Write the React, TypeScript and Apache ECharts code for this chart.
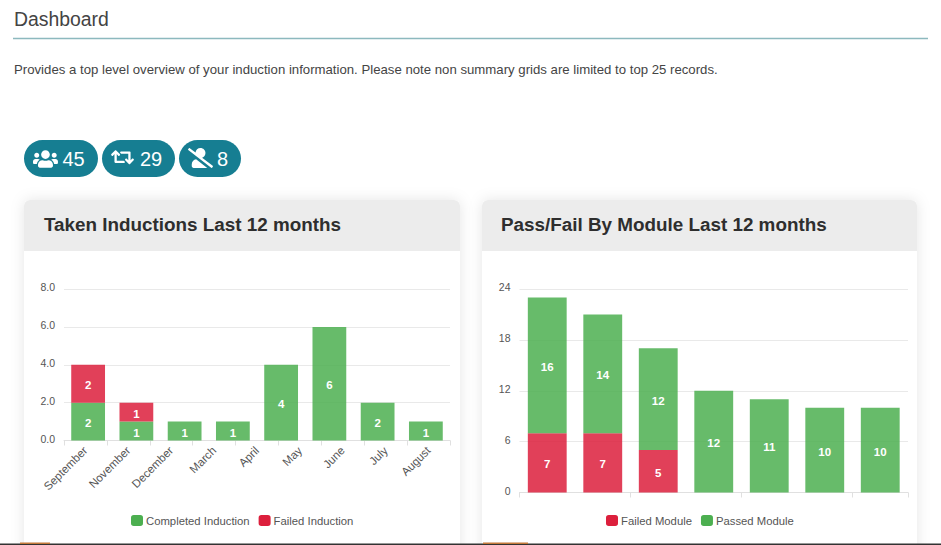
import React, { useEffect, useRef } from "react";
import * as echarts from "echarts";

const months = ["September", "November", "December", "March", "April", "May", "June", "July", "August"];
const inductionBands = ["Band 1", "Band 2", "Band 3", "Band 4", "Band 5", "Band 6", "Band 7", "Band 8"];
const completedInduction = [2, 1, 1, 1, 4, 6, 2, 1];
const failedInduction = [2, 1, null, null, null, null, null, null];
const modules = ["Module 1", "Module 2", "Module 3", "Module 4", "Module 5", "Module 6", "Module 7"];
const failedModule = [7, 7, 5, null, null, null, null];
const passedModule = [16, 14, 12, 12, 11, 10, 10];
const inductionTicks = [0, 2, 4, 6, 8];
const badges = [45, 29, 8];

const USERS = "M96 224c35.3 0 64-28.7 64-64s-28.7-64-64-64-64 28.7-64 64 28.7 64 64 64zm448 0c35.3 0 64-28.7 64-64s-28.7-64-64-64-64 28.7-64 64 28.7 64 64 64zm32 32h-64c-17.6 0-33.5 7.1-45.1 18.6 40.3 22.1 68.9 62 75.1 109.4h66c17.7 0 32-14.3 32-32v-32c0-35.3-28.7-64-64-64zm-256 0c61.9 0 112-50.1 112-112S381.9 32 320 32 208 82.1 208 144s50.1 112 112 112zm76.8 32h-8.3c-20.8 10-43.9 16-68.5 16s-47.6-6-68.5-16h-8.3C179.6 288 128 339.6 128 403.2V432c0 26.5 21.5 48 48 48h288c26.5 0 48-21.5 48-48v-28.8c0-63.6-51.6-115.2-115.2-115.2zm-223.7-13.4C161.5 263.1 145.6 256 128 256H64c-35.3 0-64 28.7-64 64v32c0 17.7 14.3 32 32 32h65.9c6.3-47.4 34.9-87.3 75.2-109.4z";
const RETWEET = "M629.657 343.598L528.971 444.284c-9.373 9.372-24.568 9.372-33.941 0L394.343 343.598c-9.373-9.373-9.373-24.569 0-33.941l10.823-10.823c9.562-9.562 25.133-9.34 34.419.492L480 342.118V160H292.451a24.005 24.005 0 0 1-16.971-7.029l-16-16C244.361 121.851 255.069 96 276.451 96H520c13.255 0 24 10.745 24 24v222.118l40.416-43.792c9.285-9.831 24.856-10.054 34.419-.492l10.823 10.823c9.372 9.372 9.372 24.569-.001 33.941zm-265.138 15.431A23.999 23.999 0 0 0 347.548 352H160V169.881l40.416 43.792c9.286 9.831 24.856 10.054 34.419.491l10.822-10.822c9.373-9.373 9.373-24.569 0-33.941L144.971 67.716c-9.373-9.373-24.569-9.373-33.941 0L10.343 168.402c-9.373 9.373-9.373 24.569 0 33.941l10.822 10.822c9.562 9.562 25.133 9.34 34.419-.491L96 169.881V392c0 13.255 10.745 24 24 24h243.549c21.382 0 32.09-25.851 16.971-40.971l-16.001-16z";
const USER_SLASH = "M633.8 458.1L362.3 248.3C412.1 230.7 448 183.8 448 128 448 57.3 390.7 0 320 0c-67.1 0-121.5 51.8-126.9 117.4L45.5 3.4C38.5-2 28.5-.8 23 6.2L3.4 31.4c-5.4 7-4.2 17 2.8 22.4l588.4 454.7c7 5.4 17 4.2 22.5-2.8l19.6-25.3c5.4-6.8 4.1-16.9-2.9-22.3zM96 422.4V464c0 26.5 21.5 48 48 48h350.2L207.4 290.3C144.2 301.3 96 356 96 422.4z";

echarts.graphic.registerShape("iconUsers", echarts.graphic.extendPath(USERS, {}) as any);
echarts.graphic.registerShape("iconRetweet", echarts.graphic.extendPath(RETWEET, {}) as any);
echarts.graphic.registerShape("iconUserSlash", echarts.graphic.extendPath(USER_SLASH, {}) as any);

const FONT = '"Liberation Sans", Arial, sans-serif';
const GREEN = "#4CAF50";
const RED = "#DC1F3C";
const TEAL = "#167E92";

const txt = (x: number, y: number, text: string, fontSize: number, fill: string, fontWeight = "normal") => ({
  type: "text", x, y, z: -1, z2: 5,
  style: { text, fontSize, fill, fontWeight, fontFamily: FONT, textVerticalAlign: "middle" },
});
const badge = (x: number, width: number) => ({
  type: "rect", z: -1, z2: 2,
  shape: { x, y: 140, width, height: 37, r: 18.5 },
  style: { fill: TEAL },
});
const icon = (type: string, x: number, y: number, s: number) => ({
  type, x, y, scaleX: s, scaleY: s, z: -1, z2: 5, style: { fill: "#fff" },
});
const card = (x: number, width: number, title: string, titleX: number) => [
  {
    type: "rect", z: -1, z2: 1,
    shape: { x, y: 200, width, height: 380, r: 6 },
    style: { fill: "#fff", shadowBlur: 14, shadowColor: "rgba(0,0,0,0.10)" },
  },
  {
    type: "rect", z: -1, z2: 2,
    shape: { x, y: 200, width, height: 51, r: [6, 6, 0, 0] },
    style: { fill: "#ECECEC" },
  },
  txt(titleX, 224, title, 18.85, "#2E2E2E", "bold"),
];
const strip = (x: number, y: number, width: number, height: number, fill: string, z2: number) => ({
  type: "rect", z: 5, z2, shape: { x, y, width, height }, style: { fill },
});

const catAxis = (gridIndex: number, data: string[], showLabel: boolean) => ({
  type: "category", gridIndex, data,
  axisLine: { lineStyle: { color: "#E0E0E0" } },
  axisTick: { show: true, length: 5, alignWithLabel: false, lineStyle: { color: "#E0E0E0" } },
  axisLabel: showLabel
    ? { show: true, rotate: 45, interval: 0, fontSize: 11.5, color: "#555", fontFamily: FONT, margin: 8 }
    : { show: false },
  splitLine: { show: false },
});
const hiddenBandAxis = (gridIndex: number, data: string[]) => ({
  type: "category", gridIndex, data, show: false,
});
const valAxis = (gridIndex: number, max: number, interval: number, digits: number) => ({
  type: "value", gridIndex, min: 0, max, interval,
  axisLine: { show: false },
  axisTick: { show: false },
  axisLabel: {
    fontSize: 10.5, color: "#555", fontFamily: FONT, margin: 9, verticalAlign: "bottom", lineHeight: 4,
    formatter: (v: number) => v.toFixed(digits),
  },
  splitLine: { lineStyle: { color: "#E9E9E9" } },
});
const barSeries = (name: string, data: (number | null)[], xIdx: number, yIdx: number, color: string, stack: string) => ({
  type: "bar", name, data, stack, xAxisIndex: xIdx, yAxisIndex: yIdx, barWidth: "70%",
  itemStyle: { color, opacity: 0.85 },
  label: { show: true, position: "inside", offset: [0, 1.5], color: "#fff", fontWeight: "bold", fontSize: 11.5, fontFamily: FONT, opacity: 1 },
  emphasis: { disabled: true },
});
const legend = (left: number, names: string[]) => ({
  left, top: 510, itemWidth: 12, itemHeight: 11, itemGap: 9,
  itemStyle: { borderWidth: 0 },
  textStyle: { fontSize: 11.3, color: "#555", fontFamily: FONT, padding: [0, 0, 0, -2] },
  data: names.map((name) => ({ name, itemStyle: { opacity: 1 } })),
});

export default function App() {
  const ref = useRef<HTMLDivElement>(null);
  useEffect(() => {
    document.body.style.margin = "0";
    const chart = echarts.init(ref.current!, null, { renderer: "svg" });
    chart.setOption({
      animation: false,
      backgroundColor: "#fff",
      graphic: {
        elements: [
          txt(14, 18.5, "Dashboard", 19.4, "#444"),
          {
            type: "line", z: -1, z2: 2,
            shape: { x1: 13, y1: 38.5, x2: 928, y2: 38.5 },
            style: { stroke: "#8DB9BE", lineWidth: 1.3 },
          },
          txt(14, 69.5, "Provides a top level overview of your induction information. Please note non summary grids are limited to top 25 records.", 13.2, "#444"),
          badge(24, 74), badge(102, 73), badge(179, 62),
          icon("iconUsers", 33, 149, 0.039),
          icon("iconRetweet", 111, 148, 0.036),
          icon("iconUserSlash", 188, 148, 0.0385),
          txt(62.5, 158.5, String(badges[0]), 20, "#fff"),
          txt(140, 158.5, String(badges[1]), 20, "#fff"),
          txt(217, 158.5, String(badges[2]), 20, "#fff"),
          ...card(24, 436, "Taken Inductions Last 12 months", 44),
          ...card(482, 435, "Pass/Fail By Module Last 12 months", 501),
          strip(0, 543.5, 941, 1.5, "#333", 10),
          strip(20, 542.5, 30, 1.5, "#C4793A", 11),
          strip(483, 542.5, 45, 1.5, "#C4793A", 11),
        ],
      },
      grid: [
        { left: 64, top: 289, width: 386, height: 151.5 },
        { left: 519.5, top: 289, width: 388.5, height: 203.5 },
      ],
      xAxis: [catAxis(0, months, true), catAxis(1, modules, false), hiddenBandAxis(0, inductionBands)],
      yAxis: [valAxis(0, inductionTicks[4], inductionTicks[1], 1), valAxis(1, 24, 6, 0)],
      legend: [
        legend(126, ["Completed Induction", "Failed Induction"]),
        legend(601, ["Failed Module", "Passed Module"]),
      ],
      series: [
        barSeries("Completed Induction", completedInduction, 2, 0, GREEN, "a"),
        barSeries("Failed Induction", failedInduction, 2, 0, RED, "a"),
        barSeries("Failed Module", failedModule, 1, 1, RED, "b"),
        barSeries("Passed Module", passedModule, 1, 1, GREEN, "b"),
      ],
    });
    return () => chart.dispose();
  }, []);
  return <div ref={ref} style={{ width: 941, height: 545 }} />;
}
